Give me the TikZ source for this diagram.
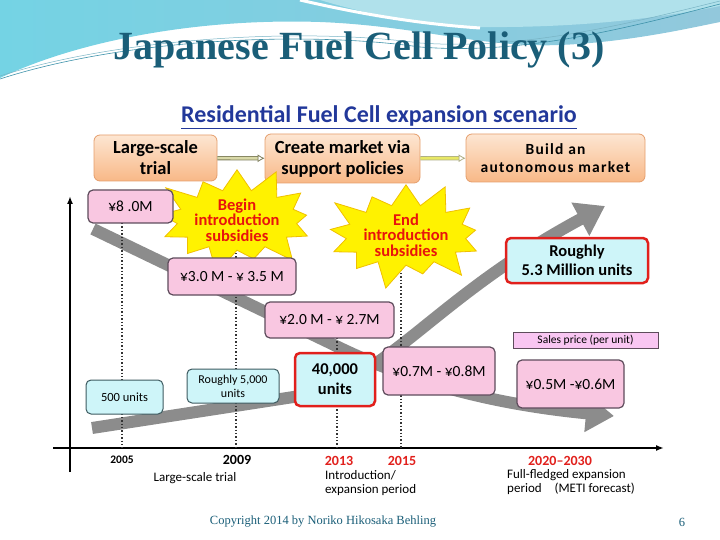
\documentclass[tikz,border=0pt]{standalone}
\usepackage{fontspec}
\setmainfont{Carlito}
\newfontfamily\slidefont{Liberation Serif}
\usetikzlibrary{shapes.symbols,arrows.meta}
% colours
\definecolor{titleteal}{HTML}{1A5E78}
\definecolor{headblue}{HTML}{22389A}
\definecolor{peachtop}{HTML}{FDE6D2}
\definecolor{peachbot}{HTML}{F8B887}
\definecolor{peachedge}{HTML}{E59E6C}
\definecolor{pinkfill}{HTML}{F9C7E1}
\definecolor{pinkedge}{HTML}{5E4C5C}
\definecolor{salesfill}{HTML}{F9C6F2}
\definecolor{cyanfill}{HTML}{CEF5F9}
\definecolor{cyanedge}{HTML}{3D5A60}
\definecolor{hotred}{HTML}{E1201C}
\definecolor{burstfill}{HTML}{FFF200}
\definecolor{burstedge}{HTML}{F0C000}
\definecolor{bursttext}{HTML}{E8140C}
\definecolor{bandgray}{HTML}{8C8C8C}
\definecolor{skyA}{HTML}{74D3E4}
\definecolor{skyB}{HTML}{92C8DC}
\definecolor{skylight}{HTML}{B0E1EB}
\definecolor{swline}{HTML}{3E92AA}
\definecolor{oliveedge}{HTML}{7D7D5A}
\definecolor{olivefill}{HTML}{D9D9A8}
\tikzset{
  orangebox/.style={draw=peachedge, line width=0.8pt, rounded corners=6pt,
    top color=peachtop, bottom color=peachbot, align=center, inner sep=0pt,
    font=\bfseries\fontsize{18.5}{21}\selectfont},
  pinkbox/.style={draw=pinkedge, fill=pinkfill, line width=1.2pt,
    rounded corners=5pt, inner sep=0pt, font=\fontsize{15.5}{18}\selectfont},
  cyanbox/.style={draw=cyanedge, fill=cyanfill, line width=1pt,
    rounded corners=5pt, inner sep=0pt, align=center},
  hotbox/.style={cyanbox, draw=hotred, line width=2.5pt},
  burst/.style={starburst, starburst points=13, starburst point height=28pt,
    fill=burstfill, draw=burstedge, line width=0.8pt, inner sep=0pt,
    align=center, text=bursttext, font=\bfseries\fontsize{16.5}{15.5}\selectfont},
  yearlbl/.style={font=\bfseries\fontsize{14}{16}\selectfont},
  band/.style={draw=bandgray, line width=12pt,
    -{Triangle[length=28pt,width=36pt]}},
  flowarrow/.style={draw=oliveedge, line width=0.8pt, double=olivefill,
    double distance=2.6pt, -{Latex[open,length=7pt,width=8pt]}},
  guide/.style={dotted, line width=1.4pt, black!80},
}
\begin{document}
\begin{tikzpicture}[x=1pt,y=-1pt]
\useasboundingbox (0,0) rectangle (720,540);
% top swoosh
\shade[left color=skyA, right color=skyB] (0,0) -- (720,0) -- (720,22)
  .. controls (690,28) and (630,42) .. (560,45)
  .. controls (480,48) and (420,26) .. (320,22)
  .. controls (200,18) and (80,40) .. (0,78) -- cycle;
\fill[skylight] (320,0) .. controls (380,18) and (430,25) .. (480,27)
  .. controls (580,28) and (660,18) .. (720,6) -- (720,0) -- cycle;
\draw[white, line width=3pt] (300,0) .. controls (360,14) and (420,24) .. (480,28);
\draw[swline, line width=0.6pt] (0,79) .. controls (120,40) and (300,30) .. (420,47)
  .. controls (520,55) and (620,30) .. (720,4);
\draw[swline!70, line width=0.5pt] (0,76) .. controls (120,38) and (300,27) .. (420,43)
  .. controls (520,50) and (620,26) .. (720,1);
% title
\node[text=titleteal, font=\slidefont\bfseries\fontsize{40}{44}\selectfont] (title) at (359,50) {Japanese Fuel Cell Policy (3)};
\node[text=headblue, font=\bfseries\fontsize{24}{28}\selectfont] (heading) at (379,117) {\underline{Residential Fuel Cell expansion scenario}};
% stages
\node[orangebox, minimum width=123pt, minimum height=46pt] (trial) at (155.5,158) {Large-scale\\trial};
\node[orangebox, minimum width=155pt, minimum height=49pt] (support) at (342.5,158.5) {Create market via\\support policies};
\node[orangebox, minimum width=179pt, minimum height=48pt,
  font=\bfseries\fontsize{15.5}{18.5}\selectfont\addfontfeature{LetterSpace=8}] (autonomous) at (555.5,158) {Build an\\autonomous market};
\draw[flowarrow] (trial) -- (support);
\draw[flowarrow, draw=olivefill!80!black, double=olivefill!60!yellow] (support) -- (autonomous);
% gray trend bands
\draw[band] (93,229) -- (330,343) .. controls (390,373) and (470,402) .. (614,416);
\draw[band] (92,428) -- (300,396) .. controls (390,380) and (430,300) .. (605,206);
% axes
\draw[line width=1.6pt, -{Latex[length=8pt,width=6pt]}] (70,472) -- (70,196);
\draw[line width=1.6pt, -{Latex[length=8pt,width=6pt]}] (53,448) -- (664,448);
% year labels
\node[yearlbl, font=\bfseries\fontsize{11.5}{13}\selectfont] (y2005) at (122,460) {2005};
\node[yearlbl, font=\bfseries\fontsize{14}{16}\selectfont] (y2009) at (237,460) {2009};
\node[yearlbl, text=hotred] (y2013) at (339,461) {2013};
\node[yearlbl, text=hotred] (y2015) at (402,461) {2015};
\node[yearlbl, text=hotred] (y2030) at (560,461) {2020--2030};
% dotted guides
\coordinate (g2005) at (122,223);
\coordinate (g2009) at (236,246);
\coordinate (g2013) at (337,338);
\coordinate (g2015) at (401,198);
\draw[guide] (g2005) -- (g2005 |- 0,448);
\draw[guide] (g2009) -- (g2009 |- 0,448);
\draw[guide] (g2013) -- (g2013 |- 0,448);
\draw[guide] (g2015) -- (g2015 |- 0,448);
% bursts
\node[burst, minimum width=84pt, minimum height=46pt] (beginsub) at (237,220) {Begin\\introduction\\subsidies};
\node[burst, minimum width=82pt, minimum height=48pt] (endsub) at (406,235) {End\\introduction\\subsidies};
% prices
\node[pinkbox, minimum width=85pt, minimum height=33pt] (p8) at (130.5,206.5) {¥8 .0M};
\node[pinkbox, minimum width=128pt, minimum height=37pt] (p3) at (232,276.5) {¥3.0 M - ¥ 3.5 M};
\node[pinkbox, minimum width=129pt, minimum height=36pt] (p2) at (329.5,320) {¥2.0 M - ¥ 2.7M};
\node[pinkbox, minimum width=112pt, minimum height=48pt] (p07) at (439,371) {¥0.7M - ¥0.8M};
\node[pinkbox, minimum width=107pt, minimum height=48pt] (p05) at (570.5,384) {¥0.5M -¥0.6M};
\node[pinkbox, rounded corners=0pt, line width=0.8pt, fill=salesfill,
  minimum width=145pt, minimum height=16pt, font=\fontsize{11.5}{13}\selectfont] (salesprice) at (585.5,340.5) {Sales price (per unit)};
% units sold
\node[cyanbox, minimum width=77pt, minimum height=34pt, font=\fontsize{12.5}{14}\selectfont] (u500) at (124.5,397) {500 units};
\node[cyanbox, minimum width=92pt, minimum height=34pt, font=\fontsize{12}{14}\selectfont] (u5000) at (233,386) {Roughly 5,000\\units};
\node[hotbox, minimum width=80pt, minimum height=53pt, font=\bfseries\fontsize{16.5}{20}\selectfont] (u40000) at (335,379.5) {40,000\\units};
\node[hotbox, minimum width=142pt, minimum height=45pt, font=\bfseries\fontsize{16.5}{19}\selectfont] (u53m) at (577,260.5) {Roughly\\5.3 Million units};
% periods
\node[font=\fontsize{13}{15}\selectfont] (ptrial) at (195,478) {Large-scale trial};
\node[anchor=north west, align=left, inner sep=0pt, font=\fontsize{13}{14.5}\selectfont] (pintro) at (325,470) {Introduction/\\expansion period};
\node[anchor=north west, align=left, inner sep=0pt, font=\fontsize{13}{14.5}\selectfont] (pfull) at (507,469) {Full-fledged expansion\\period\quad(METI forecast)};
% footer
\node[text=titleteal, font=\slidefont\fontsize{12.5}{14}\selectfont] (copy) at (323,522) {Copyright 2014 by Noriko Hikosaka Behling};
\node[text=titleteal, font=\slidefont\fontsize{12.5}{14}\selectfont] (pageno) at (682,522) {6};
\end{tikzpicture}
\end{document}
